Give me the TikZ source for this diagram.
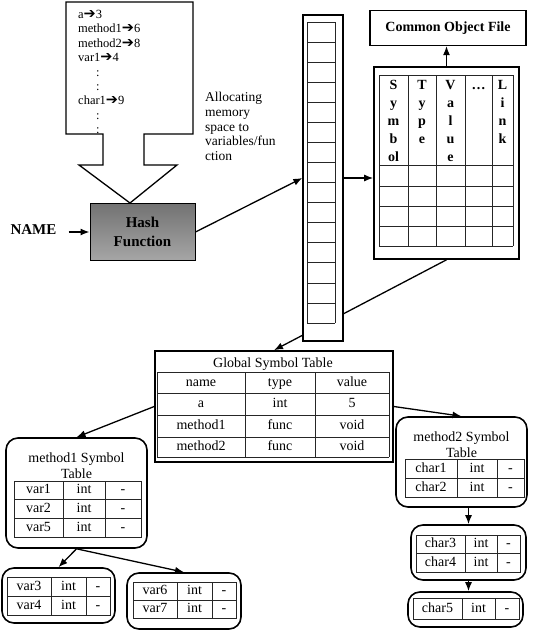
\documentclass[tikz,border=0pt]{standalone}
\usepackage{fontspec}
\setmainfont{Liberation Serif}
\newfontfamily\arrowfont{DejaVu Sans}
\usetikzlibrary{arrows.meta}

% heavy arrow used in the list of names
\newcommand{\hto}{{\arrowfont\fontsize{14.5}{14.4}\selectfont ➔}}

% rows of a small symbol table: col edges, top, row height, names, prefix
\newcommand{\symtab}[8]{%
  \foreach \nm [count=\r] in {#7} {
    \pgfmathsetmacro{\yt}{#5+(\r-1)*#6}
    \pgfmathsetmacro{\yb}{#5+\r*#6}
    \draw[cell] (#1,\yt) rectangle (#4,\yb);
    \draw[cell] (#2,\yt) -- (#2,\yb) (#3,\yt) -- (#3,\yb);
    \node[txt] (#8-\r-n) at ({(#1+#2)/2},{(\yt+\yb)/2}) {\nm};
    \node[txt] (#8-\r-t) at ({(#2+#3)/2},{(\yt+\yb)/2}) {int};
    \node[txt] (#8-\r-v) at ({(#3+#4)/2},{(\yt+\yb)/2}) {-};
  }}

\begin{document}
\begin{tikzpicture}[>={Latex[length=9pt,width=7pt]}, x=1pt, y=-1pt,
    box/.style={draw, line width=1.6pt, inner sep=0pt},
    rbox/.style={box, rounded corners=12pt},
    cell/.style={line width=0.8pt, black!85},
    txt/.style={font=\fontsize{14}{16}\selectfont, inner sep=0pt,
      text height=9.5pt, text depth=2.5pt},
    lines/.style={font=\fontsize{14}{16}\selectfont, inner sep=0pt, align=center},
    bhead/.style={font=\fontsize{14}{18}\bfseries\selectfont, inner sep=0pt, align=center},
    link/.style={->, line width=1.3pt}]
  \useasboundingbox (0,0) rectangle (545,630);

  % 1. Bang bam va mui ten rong
  \draw[line width=1.3pt] (66,2) -- (193,2) -- (193,134) -- (144,134) -- (144,165)
    -- (177,165) -- (130,203) -- (79,165) -- (103,165) -- (103,134) -- (66,134) -- cycle;
  \node[inner sep=0pt, align=left, anchor=north west, font=\fontsize{12.5}{14.4}\selectfont]
    (list) at (78,10) {a\hto3\\method1\hto6\\method2\hto8\\var1\hto4\\
    \hspace*{18pt}:\\\hspace*{18pt}:\\char1\hto9\\
    \hspace*{18pt}:\\\hspace*{18pt}:};

  % 2. Ham bam
  \node[draw, line width=1pt, top color=black!55, bottom color=black!35,
    minimum width=105pt, minimum height=57pt, align=center,
    font=\fontsize{15}{19}\bfseries\selectfont] (hash) at (142.5,232) {Hash\\Function};
  \node[inner sep=0pt, font=\fontsize{15}{17}\bfseries\selectfont] (name) at (33.5,230) {NAME};
  \draw[link, shorten <=12pt] (hash.west -| name.east) -- (hash.west);

  \node[inner sep=0pt, align=left, anchor=north west, font=\fontsize{13.5}{14.8}\selectfont]
    (alloc) at (205,92) {Allocating\\memory\\space to\\variables/fun\\ction};

  % 3. Common Object File va bang ky hieu
  \node[box, line width=1.3pt, minimum width=156pt, minimum height=35pt,
    font=\fontsize{14}{16}\bfseries\selectfont] (cof) at (448,28) {Common Object File};
  \node[box, minimum width=145pt, minimum height=192pt] (objtab) at (446.5,163) {};
  \foreach \x in {379,408,436,465,492,513}
    \draw[cell] (\x,75) -- (\x,246);
  \foreach \y in {75,165,186,206,226,246}
    \draw[cell] (379,\y) -- (513,\y);
  \node[bhead, anchor=north] (hsym) at (393.5,80) {S\\y\\m\\b\\ol};
  \node[bhead, anchor=north] (htype) at (422,80) {T\\y\\p\\e};
  \node[bhead, anchor=north] (hval) at (450.5,80) {V\\a\\l\\u\\e};
  \node[bhead, anchor=base] (hdots) at (478.5,89) {\dots};
  \node[bhead, anchor=north] (hlink) at (502.5,80) {L\\i\\n\\k};

  % 4. Global Symbol Table
  \node[box, minimum width=238pt, minimum height=111pt] (global) at (274,406.5) {};
  \node[txt] (gtitle) at (273,364) {Global Symbol Table};
  \foreach \x in {157,245,315,389}
    \draw[cell] (\x,372) -- (\x,457);
  \foreach \y in {372,393,415,437,457}
    \draw[cell] (157,\y) -- (389,\y);
  \foreach \a/\b/\c [count=\i] in {name/type/value, a/int/5, method1/func/void, method2/func/void} {
    \pgfmathsetmacro{\yc}{ifthenelse(\i==1,382.5,ifthenelse(\i==2,404,ifthenelse(\i==3,426,447)))}
    \node[txt] (g-\i-a) at (201,\yc) {\a};
    \node[txt] (g-\i-b) at (280,\yc) {\b};
    \node[txt] (g-\i-c) at (352,\yc) {\c};
  }

  % 5. Bang ky hieu cua method1 va method2
  \node[rbox, minimum width=141pt, minimum height=110pt] (m1) at (76.5,493) {};
  \node[lines] (m1title) at (76.5,466) {method1 Symbol\\Table};
  \symtab{14}{63}{105}{141}{481}{18.67}{var1,var2,var5}{m1}

  \node[rbox, minimum width=113pt, minimum height=55pt] (v3) at (58.5,595.5) {};
  \symtab{7}{51}{86}{110}{577}{19}{var3,var4}{v3}

  \node[rbox, minimum width=114pt, minimum height=56pt] (v6) at (184,601) {};
  \symtab{133}{177}{212}{236}{582}{18}{var6,var7}{v6}

  \node[rbox, minimum width=131pt, minimum height=90pt] (m2) at (461.5,462) {};
  \node[lines] (m2title) at (461.5,444.5) {method2 Symbol\\Table};
  \symtab{405}{457}{497}{524}{459}{19}{char1,char2}{m2}

  \node[rbox, minimum width=115pt, minimum height=55pt] (c3) at (468.5,552.5) {};
  \symtab{416}{465}{497}{520}{535}{18.5}{char3,char4}{c3}

  \node[rbox, minimum width=115pt, minimum height=35pt] (c5) at (465.5,609.5) {};
  \symtab{413}{462}{495}{519}{598}{21}{char5}{c5}

  % 6. Cot bo nho (ve sau duong noi de che no)
  \draw[link] (objtab.south) -- (global.north);
  \node[box, line width=1.2pt, fill=white, minimum width=40pt, minimum height=326pt] (mem) at (323,178) {};
  \draw[cell] (307,22) -- (307,323) (335,22) -- (335,323);
  \foreach \i in {0,...,15}
    \draw[cell] (307,{22+20.07*\i}) -- (335,{22+20.07*\i});

  % 7. Cac mui ten
  \draw[link] (hash.east) -- (mem.west);
  \draw[link] (mem.east) -- (mem.east -| objtab.west);
  \draw[link] (objtab.north) -- (objtab.north |- cof.south);
  \draw[link] (global.west) -- (m1.north);
  \draw[link] (global.east) -- (m2.north);
  \draw[link] (m1.south) -- (v3.north);
  \draw[link] (m1.south) -- (v6.north);
  \draw[link] (c3.north |- m2.south) -- (c3.north);
  \draw[link] (c3.south) -- (c3.south |- c5.north);
\end{tikzpicture}
\end{document}
